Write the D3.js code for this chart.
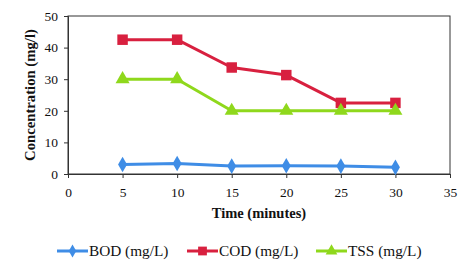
<!DOCTYPE html>
<html><head><meta charset="utf-8">
<script src="https://cdn.jsdelivr.net/npm/d3@7"></script>
<style>body{margin:0;background:#fff}svg{display:block}text{font-family:"Liberation Serif","Times New Roman",serif}</style>
</head><body>
<svg id="c" width="474" height="274"></svg>
<script>
const time = [5, 10, 15, 20, 25, 30];
const bod = [3.0, 3.3, 2.5, 2.6, 2.5, 2.1];
const cod = [42.5, 42.5, 33.7, 31.3, 22.5, 22.5];
const tss = [30, 30, 20, 20, 20, 20];
const xTicks = [0, 5, 10, 15, 20, 25, 30, 35];
const yTicks = [0, 10, 20, 30, 40, 50];
const seriesNames = ["BOD (mg/L)", "COD (mg/L)", "TSS (mg/L)"];
const colors = ["#3f8de6", "#d8203f", "#8fd81c"];
const shapes = [d3.symbolDiamond, d3.symbolSquare, d3.symbolTriangle];
const seriesVals = [bod, cod, tss];

const svg = d3.select("#c");
const L = 68, R = 450, T = 16, B = 174;
const x = d3.scaleLinear().domain([0, 35]).range([L, R]);
const y = d3.scaleLinear().domain([0, 50]).range([B, T]);

svg.append("rect").attr("x", L).attr("y", T).attr("width", R - L).attr("height", B - T)
  .attr("fill", "none").attr("stroke", "#333").attr("stroke-width", 1);

const xa = svg.append("g").attr("transform", `translate(0,${B})`)
  .call(d3.axisBottom(x).tickValues(xTicks).tickSize(4).tickPadding(9));
const ya = svg.append("g").attr("transform", `translate(${L},0)`)
  .call(d3.axisLeft(y).tickValues(yTicks).tickSize(4).tickPadding(6));
[xa, ya].forEach(a => {
  a.attr("font-family", '"Liberation Serif",serif');
  a.select(".domain").attr("stroke", "#333");
  a.selectAll(".tick line").attr("stroke", "#333");
  a.selectAll("text").attr("font-size", 13.5).attr("fill", "#111");
});

svg.append("text").attr("x", 259).attr("y", 218).attr("text-anchor", "middle")
  .attr("font-size", 14.5).attr("font-weight", "bold").attr("fill", "#111").text("Time (minutes)");
svg.append("text").attr("transform", `translate(35,${(T + B) / 2}) rotate(-90)`)
  .attr("text-anchor", "middle").attr("font-size", 14.7).attr("font-weight", "bold")
  .attr("fill", "#111").text("Concentration (mg/l)");

const line = d3.line().x((d, i) => x(time[i])).y(d => y(d));
const sizes = [70, 110, 85];
seriesVals.forEach((vals, k) => {
  svg.append("path").datum(vals).attr("d", line).attr("fill", "none")
    .attr("stroke", colors[k]).attr("stroke-width", 3).attr("stroke-linejoin", "round");
  svg.selectAll(null).data(vals).enter().append("path")
    .attr("transform", (d, i) => `translate(${x(time[i])},${y(d)})`)
    .attr("d", d3.symbol().type(shapes[k]).size(sizes[k]))
    .attr("fill", colors[k]);
});

const lx = [57, 187, 316];
seriesNames.forEach((n, k) => {
  const g = svg.append("g").attr("transform", `translate(${lx[k]},251)`);
  g.append("line").attr("x1", 0).attr("x2", 31).attr("stroke", colors[k]).attr("stroke-width", 3);
  g.append("path").attr("transform", "translate(15.5,0)")
    .attr("d", d3.symbol().type(shapes[k]).size(sizes[k] * 0.7)).attr("fill", colors[k]);
  g.append("text").attr("x", 32).attr("y", 5).attr("font-size", 15.3).attr("fill", "#111").text(n);
});
</script>
</body></html>
